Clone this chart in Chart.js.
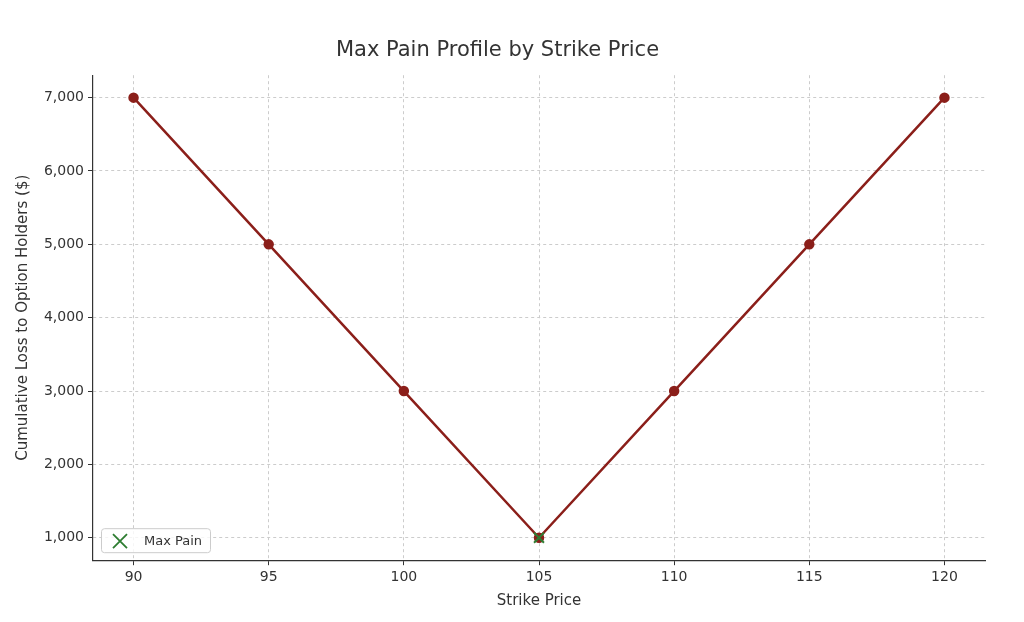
<!DOCTYPE html>
<html><head><meta charset="utf-8">
<script src="https://cdn.jsdelivr.net/npm/chart.js@4"></script>
<style>body{margin:0;background:#fff}#wrap{width:1024px;height:622px}</style>
</head><body><div id="wrap"><canvas id="c"></canvas></div>
<script>
const strikes = [90, 95, 100, 105, 110, 115, 120];
const losses = [7000, 5000, 3000, 1000, 3000, 5000, 7000];
const maxPainStrike = [105];
const maxPainLoss = [1000];
const xTicks = [90, 95, 100, 105, 110, 115, 120];
const yTicks = [1000, 2000, 3000, 4000, 5000, 6000, 7000];

const font = "'DejaVu Sans', sans-serif";

// legend box drawn inside the plot, bottom left
const legendBox = {
  id: 'legendBox',
  afterDraw(chart) {
    const ctx = chart.ctx, a = chart.chartArea;
    const x = a.left + 8, y = a.bottom - 32;
    ctx.save();
    ctx.fillStyle = 'rgba(255,255,255,0.8)';
    ctx.strokeStyle = '#ccc';
    ctx.lineWidth = 1;
    ctx.beginPath();
    ctx.roundRect(x + 0.5, y + 0.5, 109, 24, 3);
    ctx.fill(); ctx.stroke();
    ctx.strokeStyle = '#2e7d32';
    ctx.lineWidth = 1.8;
    const cx = x + 19, cy = y + 13;
    ctx.beginPath();
    ctx.moveTo(cx - 7, cy - 7); ctx.lineTo(cx + 7, cy + 7);
    ctx.moveTo(cx + 7, cy - 7); ctx.lineTo(cx - 7, cy + 7);
    ctx.stroke();
    ctx.fillStyle = '#333';
    ctx.font = '13px ' + font;
    ctx.textBaseline = 'middle';
    ctx.fillText('Max Pain', x + 43, cy);
    ctx.restore();
  }
};

new Chart(document.getElementById('c'), {
  type: 'scatter',
  data: {
    datasets: [
      {
        label: 'Loss',
        data: strikes.map((s, i) => ({x: s, y: losses[i]})),
        showLine: true,
        borderColor: '#8b1f1a',
        backgroundColor: '#8b1f1a',
        borderWidth: 2.5,
        pointRadius: 4,
        order: 2
      },
      {
        label: 'Max Pain',
        data: maxPainStrike.map((s, i) => ({x: s, y: maxPainLoss[i]})),
        pointStyle: 'crossRot',
        pointRadius: 7,
        borderColor: '#2e7d32',
        borderWidth: 2,
        order: 1
      }
    ]
  },
  options: {
    responsive: true,
    maintainAspectRatio: false,
    animation: false,
    layout: {padding: {top: 8, right: 39, bottom: 10, left: 10}},
    plugins: {
      legend: {display: false},
      tooltip: {enabled: false},
      title: {
        display: true,
        text: 'Max Pain Profile by Strike Price',
        color: '#333',
        font: {family: font, size: 21, weight: 'normal'},
        padding: {top: 30, bottom: 12}
      }
    },
    scales: {
      x: {
        type: 'linear', min: 88.5, max: 121.5,
        afterBuildTicks: s => { s.ticks = xTicks.map(v => ({value: v})); },
        grid: {color: '#ccc', borderDash: [3, 3], drawTicks: true, tickLength: 5, tickColor: '#333'},
        border: {color: '#333', width: 1.2, dash: [3,3]},
        ticks: {color: '#333', font: {family: font, size: 14}, padding: 4},
        title: {display: true, text: 'Strike Price', color: '#333', font: {family: font, size: 15}, padding: 2}
      },
      y: {
        min: 694, max: 7306,
        afterBuildTicks: s => { s.ticks = yTicks.map(v => ({value: v})); },
        afterFit: s => { s.width = 83; },
        grid: {color: '#ccc', tickLength: 5, tickColor: '#333'},
        border: {color: '#333', width: 1.2, dash: [3,3]},
        ticks: {color: '#333', font: {family: font, size: 14}, padding: 4},
        title: {display: true, text: 'Cumulative Loss to Option Holders ($)', color: '#333', font: {family: font, size: 15}, padding: 4}
      }
    }
  },
  plugins: [legendBox]
});
</script>
</body></html>
